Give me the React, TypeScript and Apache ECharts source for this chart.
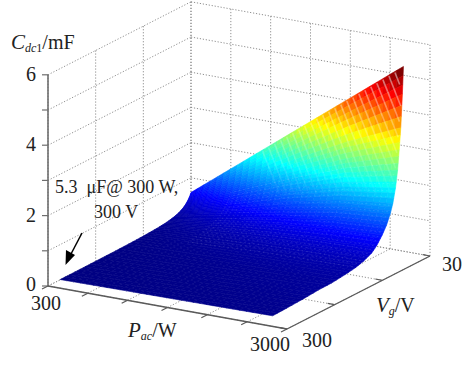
import React, { useEffect, useRef } from "react";
import * as echarts from "echarts";

const powerColumns = [300, 900, 1500, 2100, 2700];
const voltageRows = [30, 32, 35, 38, 41, 45, 50, 55, 62, 70, 80, 90, 105, 120, 140, 165, 190, 220, 250, 277];
const capacitanceTable = [
  [0.583, 1.75, 2.917, 4.083, 5.25],
  [0.513, 1.526, 2.525, 3.508, 4.476],
  [0.429, 1.28, 2.1, 2.88, 3.548],
  [0.364, 1.085, 1.77, 2.42, 2.945],
  [0.312, 0.93, 1.52, 2.04, 2.389],
  [0.259, 0.77, 1.26, 1.67, 1.913],
  [0.21, 0.625, 1.02, 1.34, 1.512],
  [0.174, 0.518, 0.84, 1.11, 1.25],
  [0.137, 0.405, 0.66, 0.87, 0.983],
  [0.107, 0.318, 0.52, 0.68, 0.771],
  [0.082, 0.243, 0.395, 0.5, 0.554],
  [0.065, 0.19, 0.31, 0.38, 0.408],
  [0.048, 0.14, 0.23, 0.28, 0.3],
  [0.036, 0.107, 0.175, 0.215, 0.23],
  [0.027, 0.079, 0.13, 0.165, 0.181],
  [0.019, 0.055, 0.086, 0.115, 0.139],
  [0.015, 0.044, 0.073, 0.102, 0.131],
  [0.011, 0.033, 0.054, 0.076, 0.098],
  [0.008, 0.025, 0.042, 0.059, 0.076],
  [0.007, 0.021, 0.034, 0.048, 0.062],
];
const powerTicks = [300, 750, 1200, 1650, 2100, 2550, 3000];
const voltageTicks = [300, 210, 120, 30];
const capacitanceTicks = [0, 1, 2, 3, 4, 5, 6];
const capacitanceLabels = [0, 2, 4, 6];
const stripeStarts = [1108, 1176, 1244, 1312, 1380, 1448, 1516, 1584, 1652, 1720, 1788, 1856, 1924, 1992, 2060, 2128, 2196, 2264, 2332, 2400, 2468, 2536, 2604, 2672];
const speckleRows = [40, 42, 44, 46, 48, 51, 54, 57, 60, 64, 68, 72, 76, 81, 86, 92, 98, 105, 112, 120];

const COLOR_MAX = 5.05;
const font = "'Liberation Serif', 'Times New Roman', serif";

function project(p: number, v: number, c: number): number[] {
  const a = (p - 300) / 2700;
  const b = (300 - v) / 270;
  return [48 + 239 * a + 143 * b, 286 + 43 * a - 73 * b - 35.2 * c];
}

function jet(t: number): string {
  const f = (x: number) => Math.round(255 * Math.max(0, Math.min(1, x)));
  const r = f(Math.min(4 * t - 1.5, -4 * t + 4.5));
  const g = f(Math.min(4 * t - 0.5, -4 * t + 3.5));
  const b = f(Math.min(4 * t + 0.5, -4 * t + 2.5));
  return `rgb(${r},${g},${b})`;
}

function heightAt(p: number, v: number): number {
  let j = 0;
  while (j < voltageRows.length - 2 && voltageRows[j + 1] < v) j++;
  let i = 0;
  while (i < powerColumns.length - 2 && powerColumns[i + 1] < p) i++;
  const tv = (v - voltageRows[j]) / (voltageRows[j + 1] - voltageRows[j]);
  const tp = (p - powerColumns[i]) / (powerColumns[i + 1] - powerColumns[i]);
  const a = capacitanceTable[j][i] * (1 - tp) + capacitanceTable[j][i + 1] * tp;
  const b = capacitanceTable[j + 1][i] * (1 - tp) + capacitanceTable[j + 1][i + 1] * tp;
  return a * (1 - tv) + b * tv;
}

function rightEdgeX(y: number): number {
  for (let j = 0; j < voltageRows.length - 1; j++) {
    const u = project(2700, voltageRows[j], capacitanceTable[j][4]);
    const w = project(2700, voltageRows[j + 1], capacitanceTable[j + 1][4]);
    if (y >= u[1] && y <= w[1]) return u[0] + ((w[0] - u[0]) * (y - u[1])) / (w[1] - u[1]);
  }
  return 0;
}

const cells: number[][] = [];
for (let j = 0; j < voltageRows.length - 1; j++) {
  for (let i = 0; i < powerColumns.length - 1; i++) cells.push([i, j]);
}

export default function App() {
  const ref = useRef<HTMLDivElement>(null);
  useEffect(() => {
    const chart = echarts.init(ref.current!, null, { renderer: "svg" });
    const frameItem = (_: any, api: any) => {
      const P = (p: number, v: number, c: number) => api.coord(project(p, v, c));
      const children: any[] = [];
      const seg = (u: number[], w: number[], stroke: string, width: number, dash?: number[]) =>
        children.push({
          type: "line",
          shape: { x1: u[0], y1: u[1], x2: w[0], y2: w[1] },
          style: { stroke, lineWidth: width, lineDash: dash },
        });
      const dotted = "#8f8f8f";
      const dash = [1.2, 1.8];
      capacitanceTicks.forEach((c) => {
        seg(P(300, 300, c), P(300, 30, c), dotted, 1, dash);
        seg(P(300, 30, c), P(3000, 30, c), dotted, 1, dash);
      });
      voltageTicks.forEach((v) => {
        seg(P(300, v, 0), P(300, v, 6), dotted, 1, dash);
        seg(P(300, v, 0), P(3000, v, 0), dotted, 1, dash);
      });
      powerTicks.forEach((p) => {
        seg(P(p, 30, 0), P(p, 30, 6), dotted, 1, dash);
        seg(P(p, 300, 0), P(p, 30, 0), dotted, 1, dash);
      });
      seg(P(300, 300, 0), P(300, 300, 6), "#6e6e6e", 1.6);
      seg(P(300, 300, 0), P(3000, 300, 0), "#5a5a5a", 1.4);
      seg(P(3000, 300, 0), P(3000, 30, 0), "#5a5a5a", 1.4);
      capacitanceTicks.forEach((c) => {
        const q = P(300, 300, c);
        seg(q, [q[0] - 6, q[1]], "#6e6e6e", 1.2);
      });
      powerTicks.forEach((p) => {
        const q = P(p, 300, 0);
        seg(q, [q[0] - 6, q[1] + 3], "#5a5a5a", 1.2);
      });
      voltageTicks.forEach((v) => {
        const q = P(3000, v, 0);
        seg(q, [q[0] - 7, q[1] - 1.3], "#5a5a5a", 1.2);
      });
      return { type: "group", children };
    };
    const cellItem = (_: any, api: any) => {
      const i = api.value(0);
      const j = api.value(1);
      const subP = 8;
      const subV = 3;
      const pLo = powerColumns[i];
      const pHi = powerColumns[i + 1];
      const vLo = voltageRows[j];
      const vHi = voltageRows[j + 1];
      const children: any[] = [];
      const pt = (p: number, v: number) => api.coord(project(p, v, heightAt(p, v)));
      for (let m = 0; m < subP; m++) {
        for (let n = 0; n < subV; n++) {
          const p0 = pLo + ((pHi - pLo) * m) / subP;
          const p1 = pLo + ((pHi - pLo) * (m + 1)) / subP;
          const v0 = vLo + ((vHi - vLo) * n) / subV;
          const v1 = vLo + ((vHi - vLo) * (n + 1)) / subV;
          const color = jet(heightAt((p0 + p1) / 2, (v0 + v1) / 2) / COLOR_MAX);
          children.push({
            type: "polygon",
            shape: { points: [pt(p0, v0), pt(p1, v0), pt(p1, v1), pt(p0, v1)] },
            style: { fill: color, stroke: color, lineWidth: 0.6 },
          });
        }
      }
      return { type: "group", children };
    };
    const stripeItem = (_: any, api: any) => {
      const p0 = api.value(0);
      const children: any[] = [];
      const start = project(p0, 30, heightAt(p0, 30));
      let x = start[0];
      let y = start[1] + 1;
      while (y < 190) {
        const ny = y + 6;
        const nx = x + (6 * 13) / 33;
        if (nx > rightEdgeX(ny) - 1) break;
        const u = api.coord([x, y]);
        const w = api.coord([nx, ny]);
        children.push({
          type: "line",
          shape: { x1: u[0], y1: u[1], x2: w[0], y2: w[1] },
          style: { stroke: "#fff", lineWidth: 1.6, opacity: 0.04 + 0.46 * Math.max(0, (190 - y) / 125) },
        });
        x = nx;
        y = ny;
      }
      return { type: "group", children };
    };
    const speckleItem = (_: any, api: any) => {
      const v = api.value(0);
      const children: any[] = [];
      let prev: number[] | null = null;
      for (let p = 800; p <= 2700; p += 100) {
        const q = api.coord(project(p, v, heightAt(p, v)));
        if (prev) {
          children.push({
            type: "line",
            shape: { x1: prev[0], y1: prev[1], x2: q[0], y2: q[1] },
            style: { stroke: "#fff", lineWidth: 1, opacity: 0.13, lineDash: [1.5, 3] },
          });
        }
        prev = q;
      }
      return { type: "group", children };
    };
    const labelItem = (_: any, api: any) => {
      const t = (text: string, x: number, y: number, size = 20, align = "center") => {
        const q = api.coord([x, y]);
        return {
          type: "text",
          style: { text, x: q[0], y: q[1], fontFamily: font, fontSize: size, fill: "#222", align, verticalAlign: "middle", lineHeight: size - 4 },
        };
      };
      const rich = (pieces: string, x: number, y: number) => {
        const q = api.coord([x, y]);
        return {
          type: "text",
          style: {
            text: pieces,
            x: q[0],
            y: q[1],
            align: "left",
            verticalAlign: "middle",
            fill: "#222",
            rich: {
              i: { fontFamily: font, fontStyle: "italic", fontSize: 21, fill: "#222", lineHeight: 24 },
              s: { fontFamily: font, fontStyle: "italic", fontSize: 12, fill: "#222", lineHeight: 18, verticalAlign: "bottom" },
              n: { fontFamily: font, fontSize: 12, fill: "#222", lineHeight: 18, verticalAlign: "bottom" },
              t: { fontFamily: font, fontSize: 20, fill: "#222", lineHeight: 24 },
            },
          },
        };
      };
      const children: any[] = [];
      capacitanceLabels.forEach((c) => {
        const q = project(300, 300, c);
        children.push(t(String(c), q[0] - 17, c === 0 ? q[1] - 2.5 : q[1] - 1));
      });
      children.push(t("300", 46, 302.5));
      children.push(t("3000", 270, 344));
      children.push(t("300", 317, 340));
      children.push(t("30", 452, 264));
      children.push(rich("{i|C}{s|dc}{n|1}{t|/mF}", 11, 42));
      children.push(rich("{i|P}{s|ac}{t|/W}", 128, 330));
      children.push(rich("{i|V}{s|g}{t|/V}", 376, 305));
      children.push(t("5.3  μF@ 300 W,", 55, 187, 18, "left"));
      children.push(t("300 V", 94, 212, 18, "left"));
      const a0 = api.coord([82, 233]);
      const a1 = api.coord([71, 254]);
      children.push({
        type: "line",
        shape: { x1: a0[0], y1: a0[1], x2: a1[0], y2: a1[1] },
        style: { stroke: "#000", lineWidth: 1.5 },
      });
      children.push({
        type: "polygon",
        shape: { points: [api.coord([65.5, 265]), api.coord([66, 250]), api.coord([75, 255])] },
        style: { fill: "#000" },
      });
      return { type: "group", children };
    };
    chart.setOption({
      animation: false,
      backgroundColor: "#fff",
      grid: { left: 0, right: 0, top: 0, bottom: 0 },
      xAxis: { type: "value", min: 0, max: 474, show: false },
      yAxis: { type: "value", min: 0, max: 366, inverse: true, show: false },
      series: [
        { type: "custom", silent: true, clip: false, data: [[0, 0]], renderItem: frameItem },
        { type: "custom", silent: true, clip: false, data: cells, renderItem: cellItem },
        { type: "custom", silent: true, clip: false, data: speckleRows.map((v) => [v, 0]), renderItem: speckleItem },
        { type: "custom", silent: true, clip: false, data: stripeStarts.map((p) => [p, 0]), renderItem: stripeItem },
        { type: "custom", silent: true, clip: false, data: [[0, 0]], renderItem: labelItem },
      ],
    });
    return () => chart.dispose();
  }, []);
  return <div ref={ref} style={{ position: "absolute", left: 0, top: 0, width: 474, height: 366 }} />;
}
